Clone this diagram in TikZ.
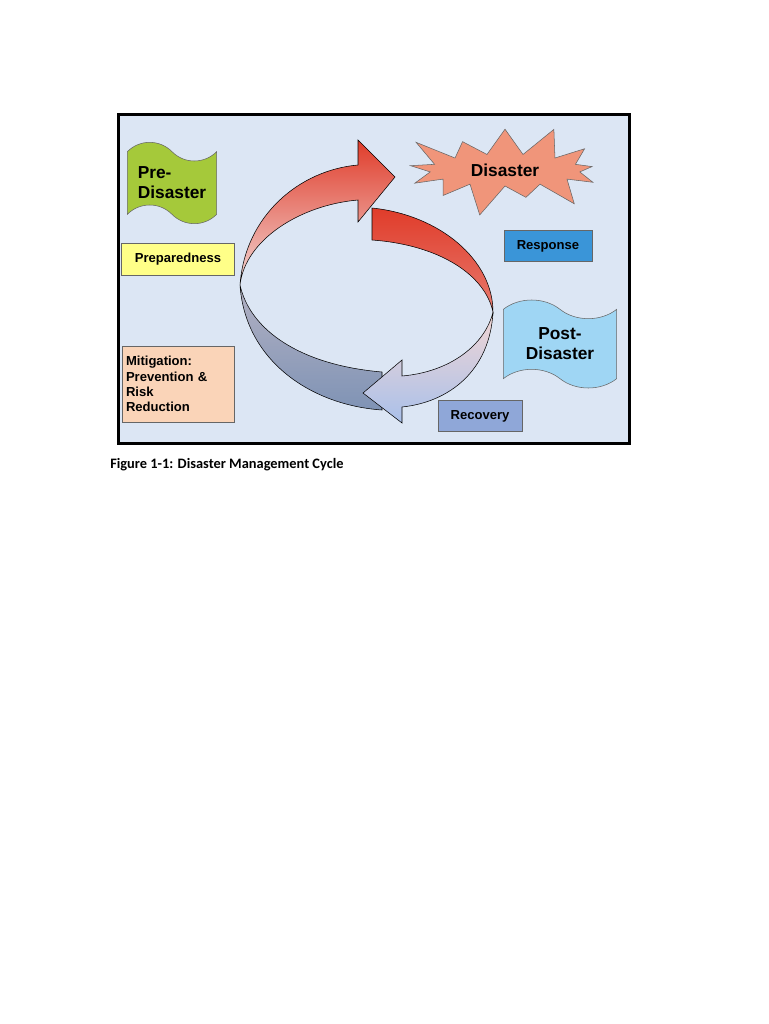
\documentclass[tikz,border=0pt]{standalone}
\usepackage{fontspec}
\setmainfont{Liberation Sans}
\newfontfamily\capfont{Carlito}
\usetikzlibrary{shapes.symbols, shapes.geometric, arrows}
\definecolor{framebg}{HTML}{DCE6F4}
\definecolor{preGreen}{HTML}{A5C93A}
\definecolor{prepYellow}{HTML}{FFFF88}
\definecolor{mitPeach}{HTML}{FAD4B8}
\definecolor{disOrange}{HTML}{F0957A}
\definecolor{respBlue}{HTML}{3A95D8}
\definecolor{postBlue}{HTML}{9FD6F4}
\definecolor{recBlue}{HTML}{8FA7D8}
\definecolor{arrRed}{HTML}{E03C2A}
\definecolor{arrPink}{HTML}{F2D6D4}
\definecolor{arrSlate}{HTML}{7F93B5}
\definecolor{arrLight}{HTML}{A9C0EA}
\tikzstyle{phase} = [tape, tape bend top=out and in, tape bend bottom=out and in, tape bend height=14pt, draw=black!60, font=\bfseries\fontsize{13}{15}\selectfont, align=left]
\tikzstyle{task} = [rectangle, draw=black!60, font=\bfseries\fontsize{9.8}{11.5}\selectfont, inner sep=0pt]
\tikzstyle{band} = [draw=black, thin]
\begin{document}
\begin{tikzpicture}[x=0.75pt, y=-0.75pt]
        \useasboundingbox (0,0) rectangle (768,1024);
        \fill[white] (0,0) rectangle (768,1024);
        \node (frame) [draw=black, line width=2pt, fill=framebg, minimum width=383pt, minimum height=247pt, inner sep=0pt] at (374,279) {};

        \node (PreDisaster) [phase, fill=preGreen, minimum width=67pt, minimum height=61pt] at (172,183) {Pre-\\Disaster};
        \node (PostDisaster) [phase, fill=postBlue, minimum width=85pt, minimum height=66pt, align=center] at (560,344) {Post-\\Disaster};

        \node (Preparedness) [task, fill=prepYellow, minimum width=85pt, minimum height=24pt] at (178,259) {Preparedness};
        \node (Mitigation) [task, fill=mitPeach, minimum width=84pt, minimum height=57pt, align=left, text width=78pt, inner sep=3pt] at (178,384) {Mitigation:\\Prevention \&\\Risk\\Reduction};
        \node (Response) [task, fill=respBlue, minimum width=66pt, minimum height=23pt] at (548,246) {Response};
        \node (Recovery) [task, fill=recBlue, minimum width=63pt, minimum height=23pt] at (480,416) {Recovery};

        \node (Disaster) [starburst, starburst points=13, starburst point height=26pt, fill=disOrange, draw=black!60, minimum width=165pt, minimum height=76pt, font=\bfseries\fontsize{13}{15}\selectfont] at (505,170) {Disaster};

        % cycle arrows
        \coordinate (left) at (240,285);
        \coordinate (right) at (493,312);
        \shade[band, top color=arrSlate!55!arrPink, bottom color=arrSlate] (left) .. controls (245,360) and (310,405) .. (382,410) -- (382,372) .. controls (300,365) and (250,330) .. (left);
        \shade[band, top color=arrRed, bottom color=arrPink] (left) .. controls (245,215) and (300,170) .. (358,165) -- (358,140) -- (395,177) -- (358,222) -- (358,200) .. controls (300,205) and (245,240) .. (left);
        \shade[band, top color=arrRed, bottom color=arrRed!60!arrPink] (372,208) .. controls (440,215) and (493,260) .. (right) .. controls (485,275) and (440,245) .. (372,240) -- cycle;
        \shade[band, top color=arrPink, bottom color=arrLight] (right) .. controls (490,370) and (450,402) .. (402,407) -- (402,423) -- (363,393) -- (402,360) -- (402,376) .. controls (450,372) and (485,345) .. (right);

        \node (caption) [anchor=west, font=\capfont\bfseries\fontsize{10.8}{13}\selectfont, inner sep=0pt] at (110,465) {Figure 1-1: Disaster Management Cycle};
\end{tikzpicture}
\end{document}
